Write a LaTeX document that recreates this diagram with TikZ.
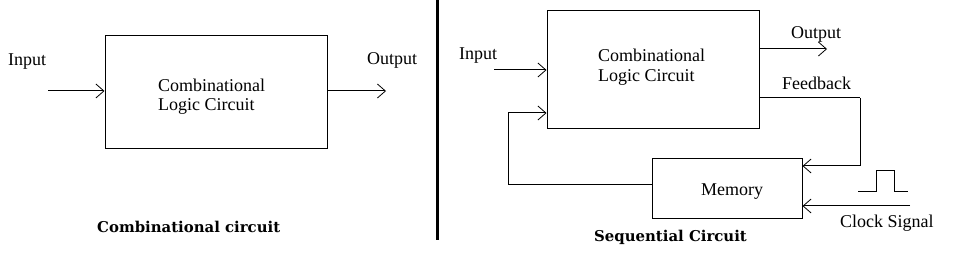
\documentclass[tikz,border=0pt]{standalone}
\usepackage{fontspec}
\setmainfont{Liberation Serif}
\newfontfamily\capfont{DejaVu Serif}
\usetikzlibrary{arrows.meta}
\begin{document}
\begin{tikzpicture}[x=1pt,y=-1pt,
  blk/.style={draw,line width=1pt,inner sep=0pt},
  lbl/.style={inner sep=0pt,anchor=base west,font=\fontsize{18}{20}\selectfont},
  captxt/.style={inner sep=0pt,anchor=base west,font=\capfont\bfseries\fontsize{14.9}{16}\selectfont},
  conn/.style={line width=1pt,-{Straight Barb[length=8pt,width=14pt,line width=0.8pt]}},
  wire/.style={line width=1pt}]
\useasboundingbox (0,0) rectangle (971,253);
% left part
\node[blk,minimum width=222pt,minimum height=113pt] (lbox) at (216,92.5) {};
\node[lbl] (lt1) at (158,92) {Combinational};
\node[lbl] (lt2) at (158,111) {Logic Circuit};
\node[lbl] (lin) at (8,66) {Input};
\node[lbl] (lout) at (367,65) {Output};
\coordinate (lins) at (48,91);
\coordinate (loute) at (386,91);
\draw[conn] (lins) -- (lins -| lbox.west);
\draw[conn] (lins -| lbox.east) -- (loute);
\node[captxt] (lcap) at (97,233) {Combinational circuit};
% separator
\coordinate (sept) at (437,0);
\coordinate (sepb) at (437,240);
\draw[line width=3pt] (sept) -- (sepb);
% right part
\node[blk,minimum width=212pt,minimum height=118pt] (rbox) at (653,70) {};
\node[blk,minimum width=150pt,minimum height=60pt] (mem) at (727,189) {};
\node[lbl,anchor=base] (memt) at (732,196) {Memory};
\node[lbl] (rt1) at (598,62) {Combinational};
\node[lbl] (rt2) at (598,82) {Logic Circuit};
\node[lbl] (rin) at (459,60) {Input};
\node[lbl] (rout) at (791,39) {Output};
\node[lbl] (fb) at (782,90) {Feedback};
\node[lbl] (clk) at (840,228) {Clock Signal};
\node[captxt] (rcap) at (594,242) {Sequential Circuit};
\coordinate (rins) at (494,70);
\draw[conn] (rins) -- (rins -| rbox.west);
\coordinate (route) at (827,49);
\draw[conn] (route -| rbox.east) -- (route);
\coordinate (fbc) at (860,98);
\draw[wire] (fbc -| rbox.east) -- (fbc);
\coordinate (fbd) at (860,166);
\draw[conn] (fbc) -- (fbd) -- (fbd -| mem.east);
\coordinate (back) at (508,185);
\coordinate (backt) at (508,113);
\draw[conn] (back -| mem.west) -- (back) -- (backt) -- (backt -| rbox.west);
\coordinate (clks) at (910,206);
\draw[conn] (clks) -- (clks -| mem.east);
\coordinate (p1) at (858,192);
\coordinate (p2) at (876,192);
\coordinate (p3) at (876,171);
\coordinate (p4) at (894,171);
\coordinate (p5) at (894,192);
\coordinate (p6) at (908,192);
\draw[wire] (p1) -- (p2) -- (p3) -- (p4) -- (p5) -- (p6);
\end{tikzpicture}
\end{document}
